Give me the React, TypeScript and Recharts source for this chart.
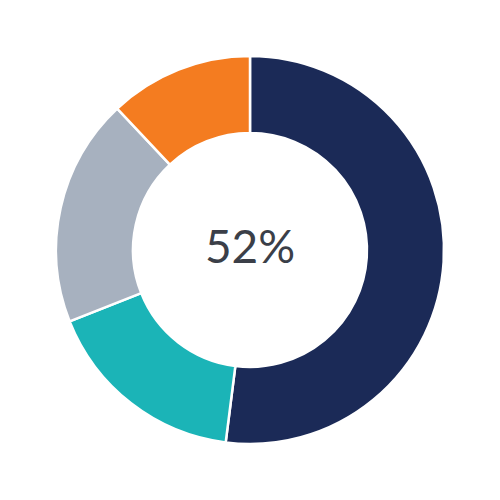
import React from 'react';
import { PieChart, Pie, Cell } from 'recharts';

const segments = ['Navy', 'Teal', 'Gray', 'Orange'];
const values = [52, 17, 19, 12];
const colors = ['#1b2a57', '#1bb4b7', '#a7b1bf', '#f47c20'];
const centerLabel = '52%';

const data = segments.map((name, i) => ({ name, value: values[i] }));

const App: React.FC = () => {
  return (
    <div style={{ position: 'absolute', top: 0, left: 0, width: 500, height: 500, background: '#fff' }}>
      <PieChart width={500} height={500} margin={{ top: 0, right: 0, bottom: 0, left: 0 }}>
        <Pie
          data={data}
          dataKey="value"
          cx={250}
          cy={250}
          innerRadius={117}
          outerRadius={194}
          startAngle={90}
          endAngle={-270}
          stroke="#ffffff"
          strokeWidth={2.5}
          isAnimationActive={false}
        >
          {data.map((d, i) => (
            <Cell key={d.name} fill={colors[i]} />
          ))}
        </Pie>
        <text
          x={250}
          y={263}
          textAnchor="middle"
          fontFamily="Lato, 'Open Sans', sans-serif"
          fontSize={46}
          fill="#3b3f48"
        >
          {centerLabel}
        </text>
      </PieChart>
    </div>
  );
};

export default App;
